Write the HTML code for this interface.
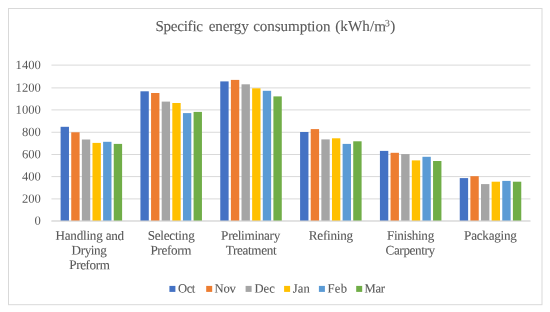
<!DOCTYPE html>
<html><head><meta charset="utf-8"><style>
html,body{margin:0;padding:0;background:#fff;}
svg{display:block;will-change:transform;opacity:0.999;}
.ax{font-family:"Liberation Serif",serif;font-variant-ligatures:none;font-size:12.6px;fill:#595959;stroke:#595959;stroke-width:0.1px;}
.ti{font-family:"Liberation Serif",serif;font-variant-ligatures:none;font-size:15.1px;fill:#595959;stroke:#595959;stroke-width:0.1px;}
.yn{stroke:none;}
</style></head><body>
<svg width="550" height="312" viewBox="0 0 550 312">
<rect width="550" height="312" fill="#fff"/>
<rect x="8.5" y="8.5" width="533.5" height="296.2" fill="#fff" stroke="#D9D9D9" stroke-width="1"/>
<line x1="51.44" x2="530.42" y1="221.00" y2="221.00" stroke="#D9D9D9" stroke-width="1"/>
<text x="40.8" y="224.90" text-anchor="end" class="ax yn" transform="rotate(0.2 40.80 224.90)">0</text>
<line x1="51.44" x2="530.42" y1="198.90" y2="198.90" stroke="#D9D9D9" stroke-width="1"/>
<text x="40.8" y="202.80" text-anchor="end" class="ax yn" transform="rotate(0.2 40.80 202.80)">200</text>
<line x1="51.44" x2="530.42" y1="176.60" y2="176.60" stroke="#D9D9D9" stroke-width="1"/>
<text x="40.8" y="180.50" text-anchor="end" class="ax yn" transform="rotate(0.2 40.80 180.50)">400</text>
<line x1="51.44" x2="530.42" y1="154.50" y2="154.50" stroke="#D9D9D9" stroke-width="1"/>
<text x="40.8" y="158.40" text-anchor="end" class="ax yn" transform="rotate(0.2 40.80 158.40)">600</text>
<line x1="51.44" x2="530.42" y1="132.25" y2="132.25" stroke="#D9D9D9" stroke-width="1"/>
<text x="40.8" y="136.15" text-anchor="end" class="ax yn" transform="rotate(0.2 40.80 136.15)">800</text>
<line x1="51.44" x2="530.42" y1="109.90" y2="109.90" stroke="#D9D9D9" stroke-width="1"/>
<text x="40.8" y="113.80" text-anchor="end" class="ax yn" transform="rotate(0.2 40.80 113.80)">1000</text>
<line x1="51.44" x2="530.42" y1="87.90" y2="87.90" stroke="#D9D9D9" stroke-width="1"/>
<text x="40.8" y="91.80" text-anchor="end" class="ax yn" transform="rotate(0.2 40.80 91.80)">1200</text>
<line x1="51.44" x2="530.42" y1="65.10" y2="65.10" stroke="#D9D9D9" stroke-width="1"/>
<text x="40.8" y="69.00" text-anchor="end" class="ax yn" transform="rotate(0.2 40.80 69.00)">1400</text>
<rect x="60.60" y="126.80" width="8.37" height="94.20" fill="#4472C4"/>
<rect x="71.23" y="132.30" width="8.37" height="88.70" fill="#ED7D31"/>
<rect x="81.86" y="139.50" width="8.37" height="81.50" fill="#A5A5A5"/>
<rect x="92.48" y="142.90" width="8.37" height="78.10" fill="#FFC000"/>
<rect x="103.11" y="141.80" width="8.37" height="79.20" fill="#5B9BD5"/>
<rect x="113.74" y="143.90" width="8.37" height="77.10" fill="#70AD47"/>
<rect x="140.43" y="91.30" width="8.37" height="129.70" fill="#4472C4"/>
<rect x="151.06" y="93.00" width="8.37" height="128.00" fill="#ED7D31"/>
<rect x="161.69" y="101.60" width="8.37" height="119.40" fill="#A5A5A5"/>
<rect x="172.31" y="103.00" width="8.37" height="118.00" fill="#FFC000"/>
<rect x="182.94" y="113.10" width="8.37" height="107.90" fill="#5B9BD5"/>
<rect x="193.57" y="111.90" width="8.37" height="109.10" fill="#70AD47"/>
<rect x="220.26" y="81.40" width="8.37" height="139.60" fill="#4472C4"/>
<rect x="230.89" y="79.90" width="8.37" height="141.10" fill="#ED7D31"/>
<rect x="241.52" y="84.30" width="8.37" height="136.70" fill="#A5A5A5"/>
<rect x="252.14" y="88.30" width="8.37" height="132.70" fill="#FFC000"/>
<rect x="262.77" y="90.80" width="8.37" height="130.20" fill="#5B9BD5"/>
<rect x="273.40" y="96.40" width="8.37" height="124.60" fill="#70AD47"/>
<rect x="300.09" y="132.00" width="8.37" height="89.00" fill="#4472C4"/>
<rect x="310.72" y="129.10" width="8.37" height="91.90" fill="#ED7D31"/>
<rect x="321.35" y="139.40" width="8.37" height="81.60" fill="#A5A5A5"/>
<rect x="331.97" y="138.30" width="8.37" height="82.70" fill="#FFC000"/>
<rect x="342.60" y="143.90" width="8.37" height="77.10" fill="#5B9BD5"/>
<rect x="353.23" y="141.30" width="8.37" height="79.70" fill="#70AD47"/>
<rect x="379.92" y="150.90" width="8.37" height="70.10" fill="#4472C4"/>
<rect x="390.55" y="152.80" width="8.37" height="68.20" fill="#ED7D31"/>
<rect x="401.18" y="154.10" width="8.37" height="66.90" fill="#A5A5A5"/>
<rect x="411.80" y="160.40" width="8.37" height="60.60" fill="#FFC000"/>
<rect x="422.43" y="156.80" width="8.37" height="64.20" fill="#5B9BD5"/>
<rect x="433.06" y="161.00" width="8.37" height="60.00" fill="#70AD47"/>
<rect x="459.75" y="178.10" width="8.37" height="42.90" fill="#4472C4"/>
<rect x="470.38" y="176.20" width="8.37" height="44.80" fill="#ED7D31"/>
<rect x="481.01" y="184.10" width="8.37" height="36.90" fill="#A5A5A5"/>
<rect x="491.63" y="181.70" width="8.37" height="39.30" fill="#FFC000"/>
<rect x="502.26" y="180.90" width="8.37" height="40.10" fill="#5B9BD5"/>
<rect x="512.89" y="181.70" width="8.37" height="39.30" fill="#70AD47"/>
<line x1="51.44" x2="530.42" y1="221.00" y2="221.00" stroke="#D9D9D9" stroke-width="1"/>
<text x="55.41" y="239.70" class="ax" style="font-size:13.1px" textLength="68.75" lengthAdjust="spacing" transform="rotate(0.2 55.41 239.70)">Handling and</text>
<text x="71.61" y="254.40" class="ax" style="font-size:13.1px" textLength="35.21" lengthAdjust="spacing" transform="rotate(0.2 71.61 254.40)">Drying</text>
<text x="69.31" y="269.10" class="ax" style="font-size:13.1px" textLength="40.58" lengthAdjust="spacing" transform="rotate(0.2 69.31 269.10)">Preform</text>
<text x="147.65" y="239.70" class="ax" style="font-size:13.1px" textLength="47.04" lengthAdjust="spacing" transform="rotate(0.2 147.65 239.70)">Selecting</text>
<text x="150.41" y="254.40" class="ax" style="font-size:13.1px" textLength="41.05" lengthAdjust="spacing" transform="rotate(0.2 150.41 254.40)">Preform</text>
<text x="221.11" y="239.70" class="ax" style="font-size:13.1px" textLength="59.13" lengthAdjust="spacing" transform="rotate(0.2 221.11 239.70)">Preliminary</text>
<text x="225.84" y="254.40" class="ax" style="font-size:13.1px" textLength="50.72" lengthAdjust="spacing" transform="rotate(0.2 225.84 254.40)">Treatment</text>
<text x="308.81" y="239.70" class="ax" style="font-size:13.1px" textLength="44.25" lengthAdjust="spacing" transform="rotate(0.2 308.81 239.70)">Refining</text>
<text x="386.91" y="239.70" class="ax" style="font-size:13.1px" textLength="47.29" lengthAdjust="spacing" transform="rotate(0.2 386.91 239.70)">Finishing</text>
<text x="385.58" y="254.40" class="ax" style="font-size:13.1px" textLength="49.44" lengthAdjust="spacing" transform="rotate(0.2 385.58 254.40)">Carpentry</text>
<text x="464.11" y="239.70" class="ax" style="font-size:13.1px" textLength="52.76" lengthAdjust="spacing" transform="rotate(0.2 464.11 239.70)">Packaging</text>
<text x="155.42" y="31.00" class="ti" style="font-size:15.1px" textLength="47.62" lengthAdjust="spacing" transform="rotate(0.2 155.42 31.00)">Specific</text>
<text x="208.70" y="31.00" class="ti" style="font-size:15.1px" textLength="40.13" lengthAdjust="spacing" transform="rotate(0.2 208.70 31.00)">energy</text>
<text x="253.20" y="31.00" class="ti" style="font-size:15.1px" textLength="77.29" lengthAdjust="spacing" transform="rotate(0.2 253.20 31.00)">consumption</text>
<text x="335.22" y="31.00" class="ti" style="font-size:15.1px" textLength="50.83" lengthAdjust="spacing" transform="rotate(0.2 335.22 31.00)">(kWh/m</text>
<text x="385.02" y="26.3" class="ti" style="font-size:9.6px" transform="rotate(0.2 385.02 26.30)">3</text>
<text x="390.15" y="31.0" class="ti" transform="rotate(0.2 390.15 31.00)">)</text>
<rect x="169.4" y="285.9" width="6" height="6" fill="#4472C4"/>
<text x="178.10" y="292.40" class="ax" style="font-size:12.6px" textLength="17.08" lengthAdjust="spacing" transform="rotate(0.2 178.10 292.40)">Oct</text>
<rect x="206.2" y="285.9" width="6" height="6" fill="#ED7D31"/>
<text x="214.62" y="292.40" class="ax" style="font-size:12.6px" textLength="21.11" lengthAdjust="spacing" transform="rotate(0.2 214.62 292.40)">Nov</text>
<rect x="245.6" y="285.9" width="6" height="6" fill="#A5A5A5"/>
<text x="254.42" y="292.40" class="ax" style="font-size:12.6px" textLength="20.39" lengthAdjust="spacing" transform="rotate(0.2 254.42 292.40)">Dec</text>
<rect x="284.1" y="285.9" width="6" height="6" fill="#FFC000"/>
<text x="292.85" y="292.40" class="ax" style="font-size:12.6px" textLength="16.92" lengthAdjust="spacing" transform="rotate(0.2 292.85 292.40)">Jan</text>
<rect x="318.9" y="285.9" width="6" height="6" fill="#5B9BD5"/>
<text x="327.42" y="292.40" class="ax" style="font-size:12.6px" textLength="19.62" lengthAdjust="spacing" transform="rotate(0.2 327.42 292.40)">Feb</text>
<rect x="356.2" y="285.9" width="6" height="6" fill="#70AD47"/>
<text x="364.62" y="292.40" class="ax" style="font-size:12.6px" textLength="20.28" lengthAdjust="spacing" transform="rotate(0.2 364.62 292.40)">Mar</text>
</svg>
</body></html>
